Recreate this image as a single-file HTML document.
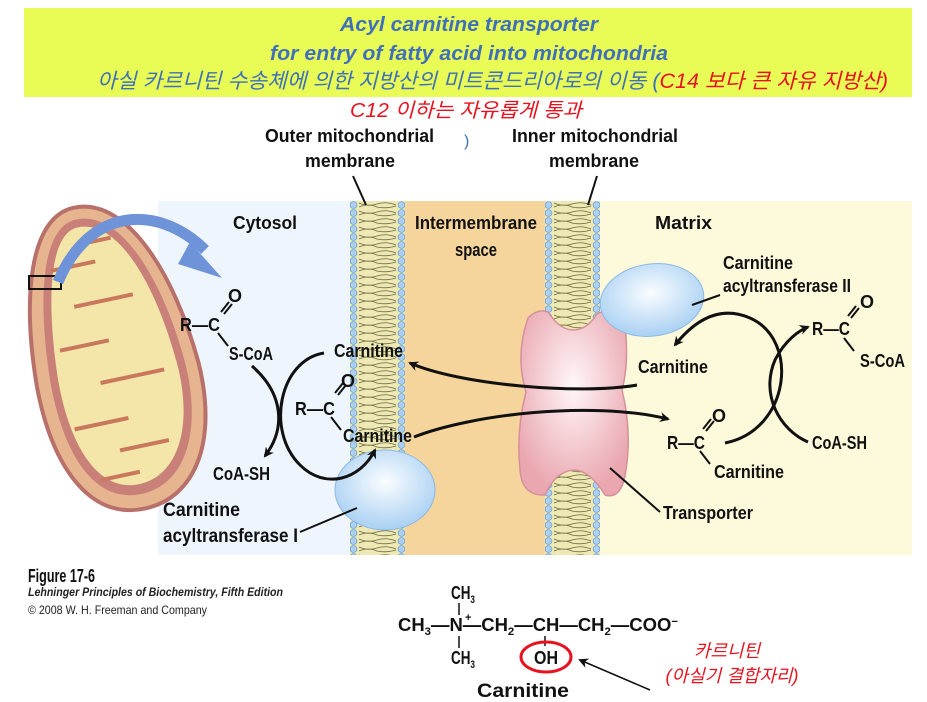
<!DOCTYPE html>
<html><head><meta charset="utf-8"><style>
body{margin:0;background:#fff;width:927px;height:702px;overflow:hidden}
svg{display:block}
.l{font-family:"Liberation Sans",sans-serif;font-weight:bold;font-size:18px;fill:#111}
.k{font-family:"Liberation Sans","Noto Sans CJK KR",sans-serif}
</style></head><body>
<svg width="927" height="702" viewBox="0 0 927 702" xmlns="http://www.w3.org/2000/svg">
<defs>
<g id="memtile">
<rect width="55" height="8" fill="#eee9b4"/>
<circle cx="3.5" cy="4" r="3.4" fill="#acd0f2" stroke="#6f9fd6" stroke-width="0.8"/>
<circle cx="51.5" cy="4" r="3.4" fill="#acd0f2" stroke="#6f9fd6" stroke-width="0.8"/>
<path d="M9 2 Q18 6 27 3 Q36 0 46 4 M9 6 Q18 2 27 6 Q36 8 46 5" stroke="#6d6a3e" stroke-width="0.8" fill="none"/>
</g>
<pattern id="mem1" x="350" y="201" width="55" height="8" patternUnits="userSpaceOnUse"><use href="#memtile"/></pattern>
<pattern id="mem2" x="545" y="201" width="55" height="8" patternUnits="userSpaceOnUse"><use href="#memtile"/></pattern>
<radialGradient id="bl" cx="0.5" cy="0.4" r="0.6"><stop offset="0" stop-color="#fafdff"/><stop offset="1" stop-color="#a9d0f3"/></radialGradient>
<radialGradient id="pk" cx="0.5" cy="0.4" r="0.6"><stop offset="0" stop-color="#fff7f8"/><stop offset="1" stop-color="#eaa7b0"/></radialGradient>
<marker id="ah" markerWidth="10" markerHeight="10" refX="8" refY="5" orient="auto" markerUnits="userSpaceOnUse"><path d="M0 0 L10 5 L0 10 L3 5Z" fill="#111"/></marker>
</defs>
<!-- banner -->
<rect x="24" y="8" width="888" height="89" fill="#e9fc55"/>
<g font-family="Liberation Sans,sans-serif" font-style="italic" font-weight="bold" font-size="20" fill="#3f70b8">
<text x="340" y="31" textLength="258" lengthAdjust="spacingAndGlyphs">Acyl carnitine transporter</text>
<text x="270" y="60" textLength="398" lengthAdjust="spacingAndGlyphs">for entry of fatty acid into mitochondria</text>
</g>
<text x="97" y="88" textLength="791" lengthAdjust="spacingAndGlyphs" class="k" font-size="21" font-style="italic" fill="#3f70b8">아실 카르니틴 수송체에 의한 지방산의 미트콘드리아로의 이동 (<tspan fill="#e8121e">C14 보다 큰 자유 지방산)</tspan></text>
<text x="350" y="117" textLength="232" lengthAdjust="spacingAndGlyphs" class="k" font-size="20" font-style="italic" fill="#e8121e">C12 이하는 자유롭게 통과</text>
<text x="464" y="146" class="k" font-size="16" fill="#3f70b8">)</text>
<!-- panels -->
<rect x="158" y="201" width="192" height="354" fill="#eef5fd"/>
<rect x="405" y="201" width="140" height="354" fill="#f5d59c"/>
<rect x="600" y="201" width="312" height="354" fill="#fdfadc"/>
<rect x="350" y="201" width="55" height="354" fill="url(#mem1)"/>
<rect x="545" y="201" width="55" height="354" fill="url(#mem2)"/>
<g class="l">
<text x="265" y="142" textLength="169" lengthAdjust="spacingAndGlyphs">Outer mitochondrial</text>
<text x="305" y="167" textLength="90" lengthAdjust="spacingAndGlyphs">membrane</text>
<text x="512" y="142" textLength="166" lengthAdjust="spacingAndGlyphs">Inner mitochondrial</text>
<text x="549" y="167" textLength="90" lengthAdjust="spacingAndGlyphs">membrane</text>
<text x="233" y="229" textLength="64" lengthAdjust="spacingAndGlyphs">Cytosol</text>
<text x="415" y="229" textLength="122" lengthAdjust="spacingAndGlyphs">Intermembrane</text>
<text x="455" y="256" textLength="42" lengthAdjust="spacingAndGlyphs">space</text>
<text x="655" y="229" textLength="57" lengthAdjust="spacingAndGlyphs">Matrix</text>
</g>
<line x1="353" y1="176" x2="366" y2="205" stroke="#111" stroke-width="2"/>
<line x1="597" y1="176" x2="588" y2="205" stroke="#111" stroke-width="2"/>
<!-- mitochondrion -->
<g transform="rotate(-12 112 355)">
<path d="M105 203 C 160 203, 190 290, 195 380 C 198 460, 165 512, 112 512 C 55 512, 30 450, 32 370 C 36 280, 60 203, 105 203Z" fill="#e6b48f" stroke="#b8706a" stroke-width="4"/>
<path d="M105 215 C 152 215, 178 295, 182 380 C 184 450, 156 497, 112 497 C 65 497, 44 445, 46 370 C 50 290, 68 215, 105 215Z" fill="#c98079"/>
<path d="M105 223 C 146 223, 170 295, 174 380 C 176 445, 150 487, 112 487 C 72 487, 52 440, 54 370 C 58 295, 74 223, 105 223Z" fill="#f4e6a8"/>
<g stroke="#c9785d" stroke-width="4" fill="none">
<path d="M70 260 h45 M85 300 h60 M62 340 h50 M95 380 h65 M60 420 h55 M100 450 h50 M75 475 h40 M100 240 h35"/>
</g>
</g>
<rect x="29" y="276" width="32" height="13" fill="none" stroke="#111" stroke-width="2"/>
<path d="M58 282 C 90 205, 160 205, 205 250" stroke="#6f93d8" stroke-width="11" fill="none"/>
<path d="M190 242 L222 278 L178 264Z" fill="#6f93d8"/>
<!-- transporter -->
<path d="M528 318 Q538 308 548 312 Q560 330 573 330 Q587 330 597 314 Q612 306 624 318 Q630 360 622 390 Q632 430 626 470 Q622 500 605 495 Q590 470 573 470 Q555 472 545 495 Q522 496 520 470 Q516 430 526 392 Q515 355 528 318Z" fill="url(#pk)" stroke="#d78f9a" stroke-width="1.5"/>
<!-- CAT I and II -->
<ellipse cx="385" cy="490" rx="50" ry="40" fill="url(#bl)" stroke="#8bb9e6"/>
<ellipse cx="652" cy="300" rx="52" ry="36" fill="url(#bl)" stroke="#8bb9e6" transform="rotate(-8 652 300)"/>
<!-- chemistry -->
<g class="l" font-size="17">
<text x="180" y="331" textLength="40" lengthAdjust="spacingAndGlyphs">R—C</text><text x="228" y="302">O</text>
<text x="229" y="360" textLength="44" lengthAdjust="spacingAndGlyphs">S-CoA</text>
<text x="213" y="480" textLength="57" lengthAdjust="spacingAndGlyphs">CoA-SH</text>
<text x="334" y="357" textLength="69" lengthAdjust="spacingAndGlyphs">Carnitine</text>
<text x="295" y="415" textLength="40" lengthAdjust="spacingAndGlyphs">R—C</text><text x="341" y="387">O</text>
<text x="343" y="442" textLength="69" lengthAdjust="spacingAndGlyphs">Carnitine</text>
<text x="163" y="516" font-size="19" textLength="77" lengthAdjust="spacingAndGlyphs">Carnitine</text>
<text x="163" y="542" font-size="19" textLength="135" lengthAdjust="spacingAndGlyphs">acyltransferase I</text>
<text x="723" y="269" textLength="70" lengthAdjust="spacingAndGlyphs">Carnitine</text>
<text x="723" y="292" textLength="128" lengthAdjust="spacingAndGlyphs">acyltransferase II</text>
<text x="812" y="335" textLength="38" lengthAdjust="spacingAndGlyphs">R—C</text><text x="860" y="308">O</text>
<text x="860" y="367" textLength="45" lengthAdjust="spacingAndGlyphs">S-CoA</text>
<text x="638" y="373" textLength="70" lengthAdjust="spacingAndGlyphs">Carnitine</text>
<text x="667" y="449" textLength="38" lengthAdjust="spacingAndGlyphs">R—C</text><text x="712" y="422">O</text>
<text x="714" y="478" textLength="70" lengthAdjust="spacingAndGlyphs">Carnitine</text>
<text x="812" y="449" textLength="55" lengthAdjust="spacingAndGlyphs">CoA-SH</text>
<text x="663" y="519" textLength="90" lengthAdjust="spacingAndGlyphs">Transporter</text>
</g>
<g stroke="#111" stroke-width="2" fill="none">
<path d="M221 312 l8 -10 M224 314 l8 -10 M218 333 l10 13"/>
<path d="M335 393 l8 -10 M338 395 l8 -10 M331 417 l10 13"/>
<path d="M848 316 l8 -10 M851 318 l8 -10 M844 338 l10 13"/>
<path d="M703 429 l8 -10 M706 431 l8 -10 M700 451 l10 13"/>
</g>
<g stroke="#111" stroke-width="3" fill="none">
<path d="M252 366 C 285 395, 285 430, 265 456" marker-end="url(#ah)"/>
<path d="M324 353 C 280 360, 265 430, 300 465 C 325 490, 360 480, 375 450" marker-end="url(#ah)"/>
<path d="M637 385 C 580 395, 460 385, 410 363" marker-end="url(#ah)"/>
<path d="M414 437 C 470 415, 590 400, 668 419" marker-end="url(#ah)"/>
<path d="M725 443 C 790 430, 800 340, 750 318 C 720 305, 695 320, 675 345" marker-end="url(#ah)"/>
<path d="M808 442 C 780 430, 760 395, 775 360 C 785 340, 800 330, 808 327" marker-end="url(#ah)"/>
</g>
<g stroke="#111" stroke-width="2">
<line x1="300" y1="532" x2="357" y2="508"/>
<line x1="692" y1="305" x2="720" y2="295"/>
<line x1="610" y1="468" x2="660" y2="512"/>
</g>
<!-- bottom -->
<text x="28" y="582" class="l" font-size="19" textLength="67" lengthAdjust="spacingAndGlyphs">Figure 17-6</text>
<text x="28" y="596" textLength="255" lengthAdjust="spacingAndGlyphs" font-family="Liberation Sans,sans-serif" font-style="italic" font-weight="bold" font-size="12" fill="#222">Lehninger Principles of Biochemistry, Fifth Edition</text>
<text x="28" y="614" textLength="179" lengthAdjust="spacingAndGlyphs" font-family="Liberation Sans,sans-serif" font-size="12" fill="#222">© 2008 W. H. Freeman and Company</text>
<g class="l" font-size="16">
<text x="398" y="631" textLength="280" lengthAdjust="spacingAndGlyphs">CH<tspan font-size="11" dy="4">3</tspan><tspan dy="-4">—N—CH</tspan><tspan font-size="11" dy="4">2</tspan><tspan dy="-4">—CH—CH</tspan><tspan font-size="11" dy="4">2</tspan><tspan dy="-4">—COO</tspan><tspan font-size="11" dy="-6">−</tspan></text>
<text x="451" y="599" textLength="24" lengthAdjust="spacingAndGlyphs">CH<tspan font-size="11" dy="4">3</tspan></text>
<text x="465" y="621" font-size="11">+</text>
<text x="451" y="664" textLength="24" lengthAdjust="spacingAndGlyphs">CH<tspan font-size="11" dy="4">3</tspan></text>
<text x="534" y="664" textLength="24" lengthAdjust="spacingAndGlyphs">OH</text>
<text x="477" y="697" font-size="19" textLength="92" lengthAdjust="spacingAndGlyphs">Carnitine</text>
</g>
<g stroke="#111" stroke-width="1.5">
<line x1="459" y1="603" x2="459" y2="615"/><line x1="459" y1="636" x2="459" y2="648"/><line x1="545" y1="636" x2="545" y2="646"/>
</g>
<ellipse cx="546" cy="657" rx="25" ry="15" fill="none" stroke="#e8121e" stroke-width="3"/>
<line x1="650" y1="690" x2="580" y2="660" stroke="#111" stroke-width="1.5" marker-end="url(#ah)"/>
<text x="727" y="657" text-anchor="middle" class="k" font-size="18" font-style="italic" fill="#e8121e">카르니틴</text>
<text x="732" y="682" text-anchor="middle" class="k" font-size="18" font-style="italic" fill="#e8121e">(아실기 결합자리)</text>
</svg>
</body></html>
